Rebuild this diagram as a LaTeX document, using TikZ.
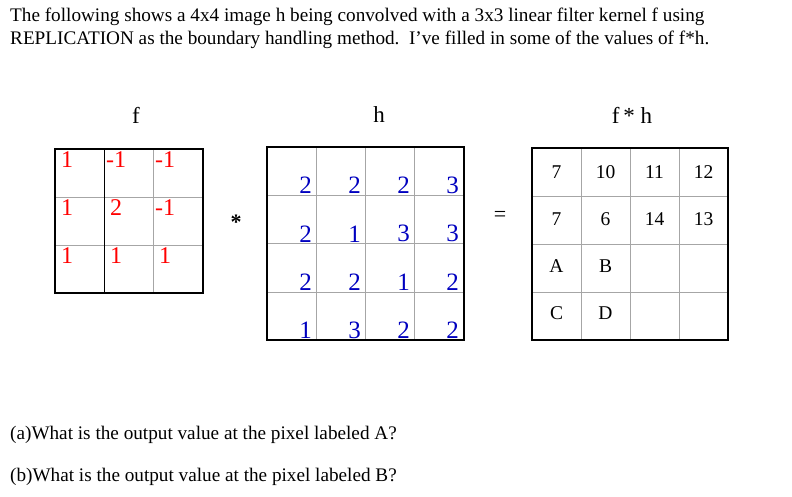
\documentclass[tikz,border=0pt]{standalone}
\usepackage{fontspec}
\setmainfont{Liberation Serif}
\begin{document}
\begin{tikzpicture}[x=1pt,y=-1pt,
  txt/.style={anchor=west,inner sep=0pt,font=\fontsize{19.2}{22}\selectfont},
  fv/.style={anchor=north west,inner sep=0pt,text=red,font=\fontsize{24}{26}\selectfont},
  hv/.style={anchor=south east,inner sep=0pt,text=blue!75!black,font=\fontsize{25}{26}\selectfont},
  ov/.style={inner sep=0pt,font=\fontsize{19.5}{20}\selectfont},
  lab/.style={inner sep=0pt,font=\fontsize{23}{24}\selectfont}]
\useasboundingbox (0,0) rectangle (792,497);
\node[txt] (t1) at (10,17) {The following shows a 4x4 image h being convolved with a 3x3 linear filter kernel f using};
\node[txt] (t2) at (10,40) {REPLICATION as the boundary handling method.\ \ I've filled in some of the values of f*h.};
\node[lab] (lf) at (136,115) {f};
\node[lab] (lh) at (379,115) {h};
\node[lab] (lfh) at (632,115) {f\,* h};
% f grid
\draw[gray!70] (104,149) -- (104,293) (153,149) -- (153,293) (55,197) -- (203,197) (55,245) -- (203,245);
\draw[black] (104,149) -- (104,293);
\draw[line width=2pt] (55,149) rectangle (203,293);
\node[fv] (f0a) at (61,151) {1};
\node[fv] (f0b) at (106,151) {-1};
\node[fv] (f0c) at (155,151) {-1};
\node[fv] (f1a) at (61,199) {1};
\node[fv] (f1b) at (110,199) {2};
\node[fv] (f1c) at (155,199) {-1};
\node[fv] (f2a) at (61,247) {1};
\node[fv] (f2b) at (110,247) {1};
\node[fv] (f2c) at (159,247) {1};
\node[inner sep=0pt,font=\bfseries\fontsize{22}{22}\selectfont] (star) at (236,222) {*};
% h grid
\foreach \k in {1,2,3}{
  \draw[gray!70] (267+49*\k,147) -- (267+49*\k,340);
  \draw[gray!70] (267,147+48.25*\k) -- (464,147+48.25*\k);
}
\draw[line width=2pt] (267,147) rectangle (464,340);
\foreach \row [count=\i from 0] in {{2,2,2,3},{2,1,3,3},{2,2,1,2},{1,3,2,2}}{
  \foreach \v [count=\j from 1] in \row {
    \node[hv] (h\i\j) at (267+49*\j-4,147+48.25*\i+47) {\v};
  }
}
\node[inner sep=0pt,font=\fontsize{22}{22}\selectfont] (eq) at (500,216) {=};
% output grid
\foreach \k in {1,2,3}{
  \draw[gray!70] (532+49*\k,148) -- (532+49*\k,340);
  \draw[gray!70] (532,148+48*\k) -- (728,148+48*\k);
}
\draw[line width=2pt] (532,148) rectangle (728,340);
\foreach \row [count=\i from 0] in {{7,10,11,12},{7,6,14,13},{A,B,{},{}},{C,D,{},{}}}{
  \foreach \v [count=\j from 1] in \row {
    \node[ov] (o\i\j) at (532+49*\j-24.5,172+47*\i) {\v};
  }
}
\node[txt] (q1) at (10,435) {(a)What is the output value at the pixel labeled A?};
\node[txt] (q2) at (10,477) {(b)What is the output value at the pixel labeled B?};
\end{tikzpicture}
\end{document}
